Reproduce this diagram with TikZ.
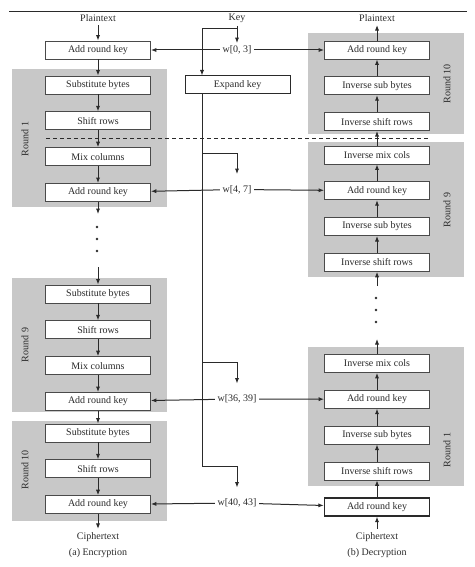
\documentclass[tikz,border=0pt]{standalone}
\usepackage{fontspec}
\setmainfont{Liberation Serif}
\usetikzlibrary{calc, positioning, arrows.meta}
\pgfdeclarelayer{bg}
\pgfsetlayers{bg,main}
\definecolor{roundgray}{HTML}{C8C8C8}
\definecolor{inkgray}{HTML}{2A2A2A}

\tikzset{
	stepbox/.style={draw=inkgray!85, line width=0.8pt, fill=white, minimum width=105pt, minimum height=18pt, inner sep=0pt},
	flow/.style={draw=inkgray, line width=1pt, -{Latex[length=5.5pt,width=4.2pt]}},
	branch/.style={flow, shorten >=8.5pt},
	keyline/.style={draw=inkgray, line width=1pt},
	wlabel/.style={inner sep=2.5pt},
	roundlabel/.style={rotate=90},
	dotmark/.style={circle, fill=inkgray, inner sep=0pt, minimum size=2.8pt}
}

\begin{document}
\begin{tikzpicture}[x=1pt, y=-1pt, node distance=17pt, text=inkgray, font=\fontsize{10}{12}\selectfont]
	\useasboundingbox (0,0) rectangle (474,567);

		% round backgrounds %
		\begin{pgfonlayer}{bg}
		\fill[roundgray] (12,69) rectangle (167,207);
		\fill[roundgray] (12,278) rectangle (167,412);
		\fill[roundgray] (12,421) rectangle (167,521);
		\fill[roundgray] (308,33) rectangle (464,134);
		\fill[roundgray] (308,142) rectangle (464,277);
		\fill[roundgray] (308,347) rectangle (464,486);
		\end{pgfonlayer}

		\draw[draw=inkgray, line width=0.8pt] (9,11) -- (467,11);

		% nodes - encryption %
		\node (ptL) at (98,18) {Plaintext};
		\node[stepbox] (ark0) at (98,50) {Add round key};
		\node[stepbox] (sb1) at (98,85) {Substitute bytes};
		\node[stepbox, below = of sb1] (sr1) {Shift rows};
		\node[stepbox, below = of sr1] (mc1) {Mix columns};
		\node[stepbox, below = of mc1] (ark1) {Add round key};
		\node[stepbox] (sb9) at (98,294) {Substitute bytes};
		\node[stepbox, below = of sb9] (sr9) {Shift rows};
		\node[stepbox, below = of sr9] (mc9) {Mix columns};
		\node[stepbox, below = of mc9] (ark9) {Add round key};
		\node[stepbox] (sb10) at (98,433) {Substitute bytes};
		\node[stepbox, below = of sb10] (sr10) {Shift rows};
		\node[stepbox, below = of sr10] (ark10) {Add round key};
		\node (ctL) at (98,537) {Ciphertext};
		\node (capA) at (98,553) {(a) Encryption};
		\node[roundlabel] (rl1) at (25,139) {Round 1};
		\node[roundlabel] (rl9) at (25,345) {Round 9};
		\node[roundlabel] (rl10) at (25,470) {Round 10};
		\foreach \y [count=\i] in {227,239,251}
			\node[dotmark] (dl\i) at (97,\y) {};
		\coordinate (gapL1) at (98,214);
		\coordinate (gapL2) at (98,267);

		% nodes - decryption %
		\node (ptR) at (377,18) {Plaintext};
		\node[stepbox] (arkR0) at (377,50) {Add round key};
		\node[stepbox, below = of arkR0] (isb10) {Inverse sub bytes};
		\node[stepbox, below = of isb10] (isr10) {Inverse shift rows};
		\node[stepbox] (imc9) at (377,155) {Inverse mix cols};
		\node[stepbox, below = of imc9] (ark9R) {Add round key};
		\node[stepbox, below = of ark9R] (isb9) {Inverse sub bytes};
		\node[stepbox, below = of isb9] (isr9) {Inverse shift rows};
		\node[stepbox] (imc1) at (377,363.5) {Inverse mix cols};
		\node[stepbox, below = of imc1] (ark1R) {Add round key};
		\node[stepbox, below = of ark1R] (isb1) {Inverse sub bytes};
		\node[stepbox, below = of isb1] (isr1) {Inverse shift rows};
		\node[stepbox, below = of isr1, draw=inkgray, line width=1.4pt] (arkF) {Add round key};
		\node (ctR) at (377,537) {Ciphertext};
		\node (capB) at (377,553) {(b) Decryption};
		\node[roundlabel] (rr10) at (447,84) {Round 10};
		\node[roundlabel] (rr9) at (447,210) {Round 9};
		\node[roundlabel] (rr1) at (447,450) {Round 1};
		\foreach \y [count=\i] in {298,310,322}
			\node[dotmark] (dr\i) at (376,\y) {};
		\coordinate (gapR1) at (377,339);
		\coordinate (gapR2) at (377,286);

		% nodes - key expansion %
		\node (key) at (237,18) {Key};
		\node[wlabel] (w0) at (237,50) {w[0, 3]};
		\node[stepbox, draw=inkgray, line width=1pt] (expand) at (237.5,85) {Expand key};
		\node[wlabel] (w1) at (237,189.5) {w[4, 7]};
		\node[wlabel] (w9) at (237,399) {w[36, 39]};
		\node[wlabel] (w10) at (237,503) {w[40, 43]};
		\coordinate (ksplit) at (237,29);
		\coordinate (kleft) at (202,29);
		\coordinate (k1) at (202,153);
		\coordinate (k9) at (202,362);
		\coordinate (kbot) at (202,466);

		% edges %
		\foreach \a/\b in {ptL/ark0, ark0/sb1, sb1/sr1, sr1/mc1, mc1/ark1, sb9/sr9, sr9/mc9, mc9/ark9, ark9/sb10, sb10/sr10, sr10/ark10, ark10/ctL}
			\draw[flow] (\a) -- (\b);
		\draw[flow] (ark1) -- (gapL1);
		\draw[flow] (gapL2) -- (sb9);

		\foreach \a/\b in {ctR/arkF, arkF/isr1, isr1/isb1, isb1/ark1R, ark1R/imc1, isr9/isb9, isb9/ark9R, ark9R/imc9, imc9/isr10, isr10/isb10, isb10/arkR0, arkR0/ptR}
			\draw[flow] (\a) -- (\b);
		\draw[flow] (imc1) -- (gapR1);
		\draw[flow] (gapR2) -- (isr9);

		\draw[flow] (key) -- (w0);
		\draw[flow] (ksplit) -- (kleft) -- (kleft |- expand.north);
		\draw[keyline] (expand.south -| kleft) -- (kbot);
		\draw[branch] (k1) -| (w1);
		\draw[branch] (k9) -| (w9);
		\draw[branch] (kbot) -| (w10);

		\foreach \w/\l/\r in {w0/ark0/arkR0, w1/ark1/ark9R, w9/ark9/ark1R, w10/ark10/arkF} {
			\draw[flow] (\w) -- (\l);
			\draw[flow] (\w) -- (\r);
		}

		% round divider %
		\draw[draw=inkgray, line width=1pt, dash pattern=on 4pt off 3pt] (46,138) -- (430,138);

		\end{tikzpicture}
\end{document}
